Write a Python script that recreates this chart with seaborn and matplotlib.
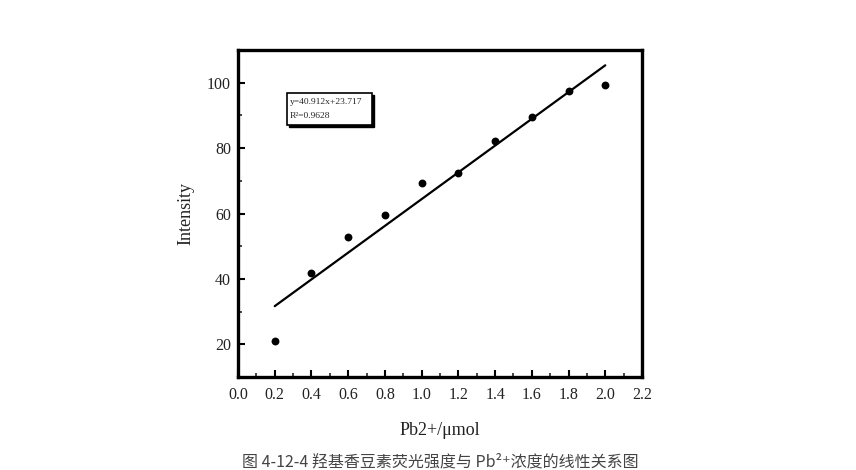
import numpy as np
import pandas as pd
import matplotlib
matplotlib.use("Agg")
import matplotlib.pyplot as plt
import seaborn as sns
from matplotlib.patches import Rectangle
from matplotlib.ticker import MultipleLocator, FormatStrFormatter

# ---- data ----
pb_conc = [0.2, 0.4, 0.6, 0.8, 1.0, 1.2, 1.4, 1.6, 1.8, 2.0]
intensity = [21.0, 41.7, 52.7, 59.4, 69.3, 72.4, 82.1, 89.5, 97.6, 99.2]
fit_text = ["y=40.912x+23.717", "R\u00b2=0.9628"]
x_label = "Pb2+/\u03bcmol"
y_label = "Intensity"
caption = "图 4-12-4 羟基香豆素荧光强度与 Pb\u00b2\u207a浓度的线性关系图"

df = pd.DataFrame({"x": pb_conc, "y": intensity})

sns.set_theme(style="white")
plt.rcParams["font.family"] = ["Liberation Serif", "Noto Sans CJK SC", "DejaVu Sans"]

fig = plt.figure(figsize=(8.56, 4.70), dpi=100)
fig.patch.set_facecolor("white")
ax = fig.add_axes([238/856, 1-377/470, 404/856, 327/470])

sns.regplot(data=df, x="x", y="y", ax=ax, ci=None, truncate=True,
            scatter_kws=dict(s=32, color="black", edgecolor="black",
                             linewidths=0, alpha=1),
            line_kws=dict(color="black", lw=1.6))

ax.set_xlim(0, 2.2)
ax.set_ylim(10, 110)
ax.xaxis.set_major_locator(MultipleLocator(0.2))
ax.xaxis.set_minor_locator(MultipleLocator(0.1))
ax.yaxis.set_major_locator(MultipleLocator(20))
ax.yaxis.set_minor_locator(MultipleLocator(10))
ax.xaxis.set_major_formatter(FormatStrFormatter("%.1f"))
ax.set_yticks([20, 40, 60, 80, 100])

ax.tick_params(axis="both", which="major", direction="in", length=5, width=1.5,
               bottom=True, left=True, top=False, right=False, labelsize=11.5,
               colors="black")
ax.tick_params(axis="both", which="minor", direction="in", length=3, width=1.2,
               bottom=True, left=True, top=False, right=False)
ax.tick_params(axis="x", which="major", pad=7)
ax.tick_params(axis="y", which="major", pad=5)
for lab in ax.get_xticklabels() + ax.get_yticklabels():
    lab.set_color("#222222")

for sp in ax.spines.values():
    sp.set_visible(True)
    sp.set_linewidth(2.4)
    sp.set_color("black")

ax.set_xlabel(x_label, fontsize=13, labelpad=14, color="#222222")
ax.set_ylabel(y_label, fontsize=13, labelpad=9, color="#222222")

# fit-info box with shadow
bx0, by0, bw, bh = 0.121, 0.771, 0.211, 0.098
ax.add_patch(Rectangle((bx0 + 0.005, by0 - 0.008), bw, bh, transform=ax.transAxes,
                       facecolor="black", edgecolor="black", zorder=4))
ax.add_patch(Rectangle((bx0, by0), bw, bh, transform=ax.transAxes,
                       facecolor="white", edgecolor="black", lw=1.2, zorder=5))
ax.text(bx0 + 0.008, by0 + bh * 0.72, fit_text[0], transform=ax.transAxes,
        fontsize=6.8, va="center", ha="left", zorder=6)
ax.text(bx0 + 0.008, by0 + bh * 0.28, fit_text[1], transform=ax.transAxes,
        fontsize=6.8, va="center", ha="left", zorder=6)

fig.text(440/856, 1-453/470, caption, ha="center", va="top", fontsize=11.5,
         color="#444444", family=["Noto Sans CJK SC", "DejaVu Sans"])

fig.savefig("out.png", dpi=100, facecolor="white")
